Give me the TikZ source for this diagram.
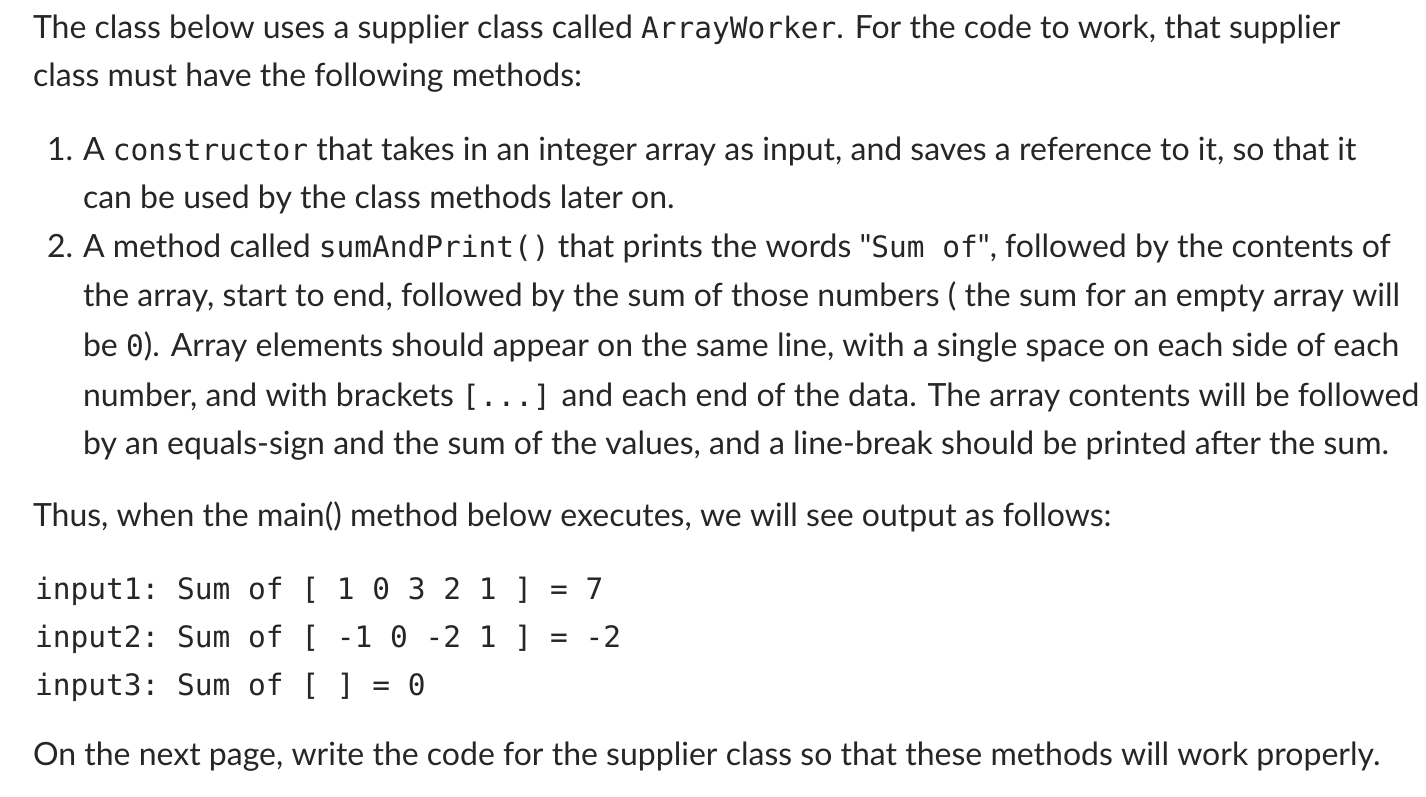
\documentclass[tikz,border=0pt]{standalone}
\usepackage{fontspec}
\setmainfont{Lato}
\setmonofont{DejaVu Sans Mono}
\begin{document}
\begin{tikzpicture}[x=1pt,y=1pt,
  every node/.style={anchor=base west,inner sep=0pt,outer sep=0pt,font=\fontsize{32}{38}\selectfont,text=black!85}]
\useasboundingbox (0,0) rectangle (1426,-796);
\newcommand{\mt}[1]{\texttt{\fontsize{29.5}{38}\selectfont #1}}
\node (l1) at (33,-38) {The class below uses a supplier class called \mt{ArrayWorker}. For the code to work, that supplier};
\node (l2) at (33,-86) {class must have the following methods:};
\node (n1) at (47,-160) {1.};
\node (l3) at (83,-160) {A \mt{constructor} that takes in an integer array as input, and saves a reference to it, so that it};
\node (l4) at (83,-208) {can be used by the class methods later on.};
\node (n2) at (47,-257) {2.};
\node (l5) at (83,-257) {A method called \mt{sumAndPrint()} that prints the words \textquotedbl\mt{Sum of}\textquotedbl, followed by the contents of};
\node (l6) at (83,-306) {the array, start to end, followed by the sum of those numbers ( the sum for an empty array will};
\node (l7) at (83,-356) {be \mt{0}). Array elements should appear on the same line, with a single space on each side of each};
\node (l8) at (83,-406) {number, and with brackets \mt{[...]} and each end of the data. The array contents will be followed};
\node (l9) at (83,-454) {by an equals-sign and the sum of the values, and a line-break should be printed after the sum.};
\node (l10) at (33,-526) {Thus, when the main() method below executes, we will see output as follows:};
\node (o1) at (35,-599) {\mt{input1: Sum of [ 1 0 3 2 1 ] = 7}};
\node (o2) at (35,-647) {\mt{input2: Sum of [ -1 0 -2 1 ] = -2}};
\node (o3) at (35,-695) {\mt{input3: Sum of [ ] = 0}};
\node (l11) at (33,-765) {On the next page, write the code for the supplier class so that these methods will work properly.};
\end{tikzpicture}
\end{document}
